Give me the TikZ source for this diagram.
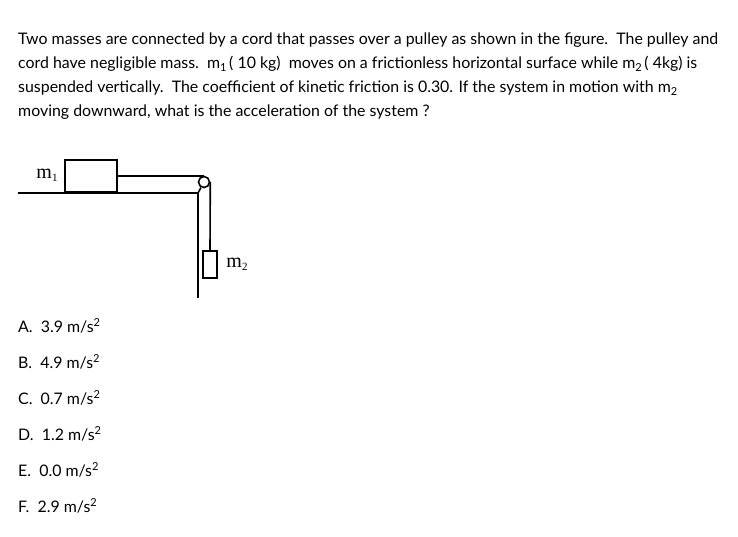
\documentclass[tikz,border=0pt]{standalone}
\usepackage{fontspec}
\setmainfont{Lato}
\newfontfamily\serifx{Liberation Serif}
\newcommand{\sbx}[1]{\raisebox{-0.35ex}{\fontsize{11}{11}\selectfont #1}}
\newcommand{\spx}[1]{\raisebox{0.7ex}{\fontsize{11}{11}\selectfont #1}}
\begin{document}
\begin{tikzpicture}[x=1pt,y=-1pt,
  txt/.style={anchor=west,inner sep=0pt,font=\fontsize{15.9}{16}\selectfont},
  ln/.style={line width=1.6pt},
  lbl/.style={inner sep=0pt,font=\serifx\fontsize{20}{20}\selectfont}]
\useasboundingbox (0,0) rectangle (738,536);
\node[txt] (t1) at (18,40) {Two masses are connected by a cord that passes over a pulley as shown in the figure.\ \ The pulley and};
\node[txt] (t2) at (18,64) {cord have negligible mass.\ \ m\sbx{1}\,( 10 kg)\ \ moves on a frictionless horizontal surface while m\sbx{2}\,( 4kg) is};
\node[txt] (t3) at (18,88) {suspended vertically.\ \ The coefficient of kinetic friction is 0.30. If the system in motion with m\sbx{2}};
\node[txt] (t4) at (18,112) {moving downward, what is the acceleration of the system ?};
% figure
\coordinate (s0) at (18,193);
\coordinate (s1) at (198,193);
\coordinate (w1) at (198,298);
\draw[ln] (s0) -- (s1) -- (w1);
\node[draw,ln,minimum width=52pt,minimum height=32pt,inner sep=0pt,anchor=south west] (b1) at (64,193) {};
\node[draw,ln,circle,minimum size=11pt,inner sep=0pt] (p) at (204,182) {};
\draw[ln] (b1.east |- 0,176) -- (204,176);
\draw[ln] (s1) -- (p);
\node[draw,ln,minimum width=14pt,minimum height=27pt,inner sep=0pt,anchor=north] (b2) at (210,250) {};
\draw[ln] (p.east) -- (b2.north);
\node[lbl] (l1) at (47,175) {m\sbx{1}};
\node[lbl] (l2) at (237,264) {m\sbx{2}};
% choices
\node[txt] (a) at (18,326) {A.\ \ 3.9 m/s\spx{2}};
\node[txt] (b) at (18,362) {B.\ \ 4.9 m/s\spx{2}};
\node[txt] (c) at (18,398) {C.\ \ 0.7 m/s\spx{2}};
\node[txt] (d) at (18,434) {D.\ \ 1.2 m/s\spx{2}};
\node[txt] (e) at (18,470) {E.\ \ 0.0 m/s\spx{2}};
\node[txt] (f) at (18,506) {F.\ \ 2.9 m/s\spx{2}};
\end{tikzpicture}
\end{document}
